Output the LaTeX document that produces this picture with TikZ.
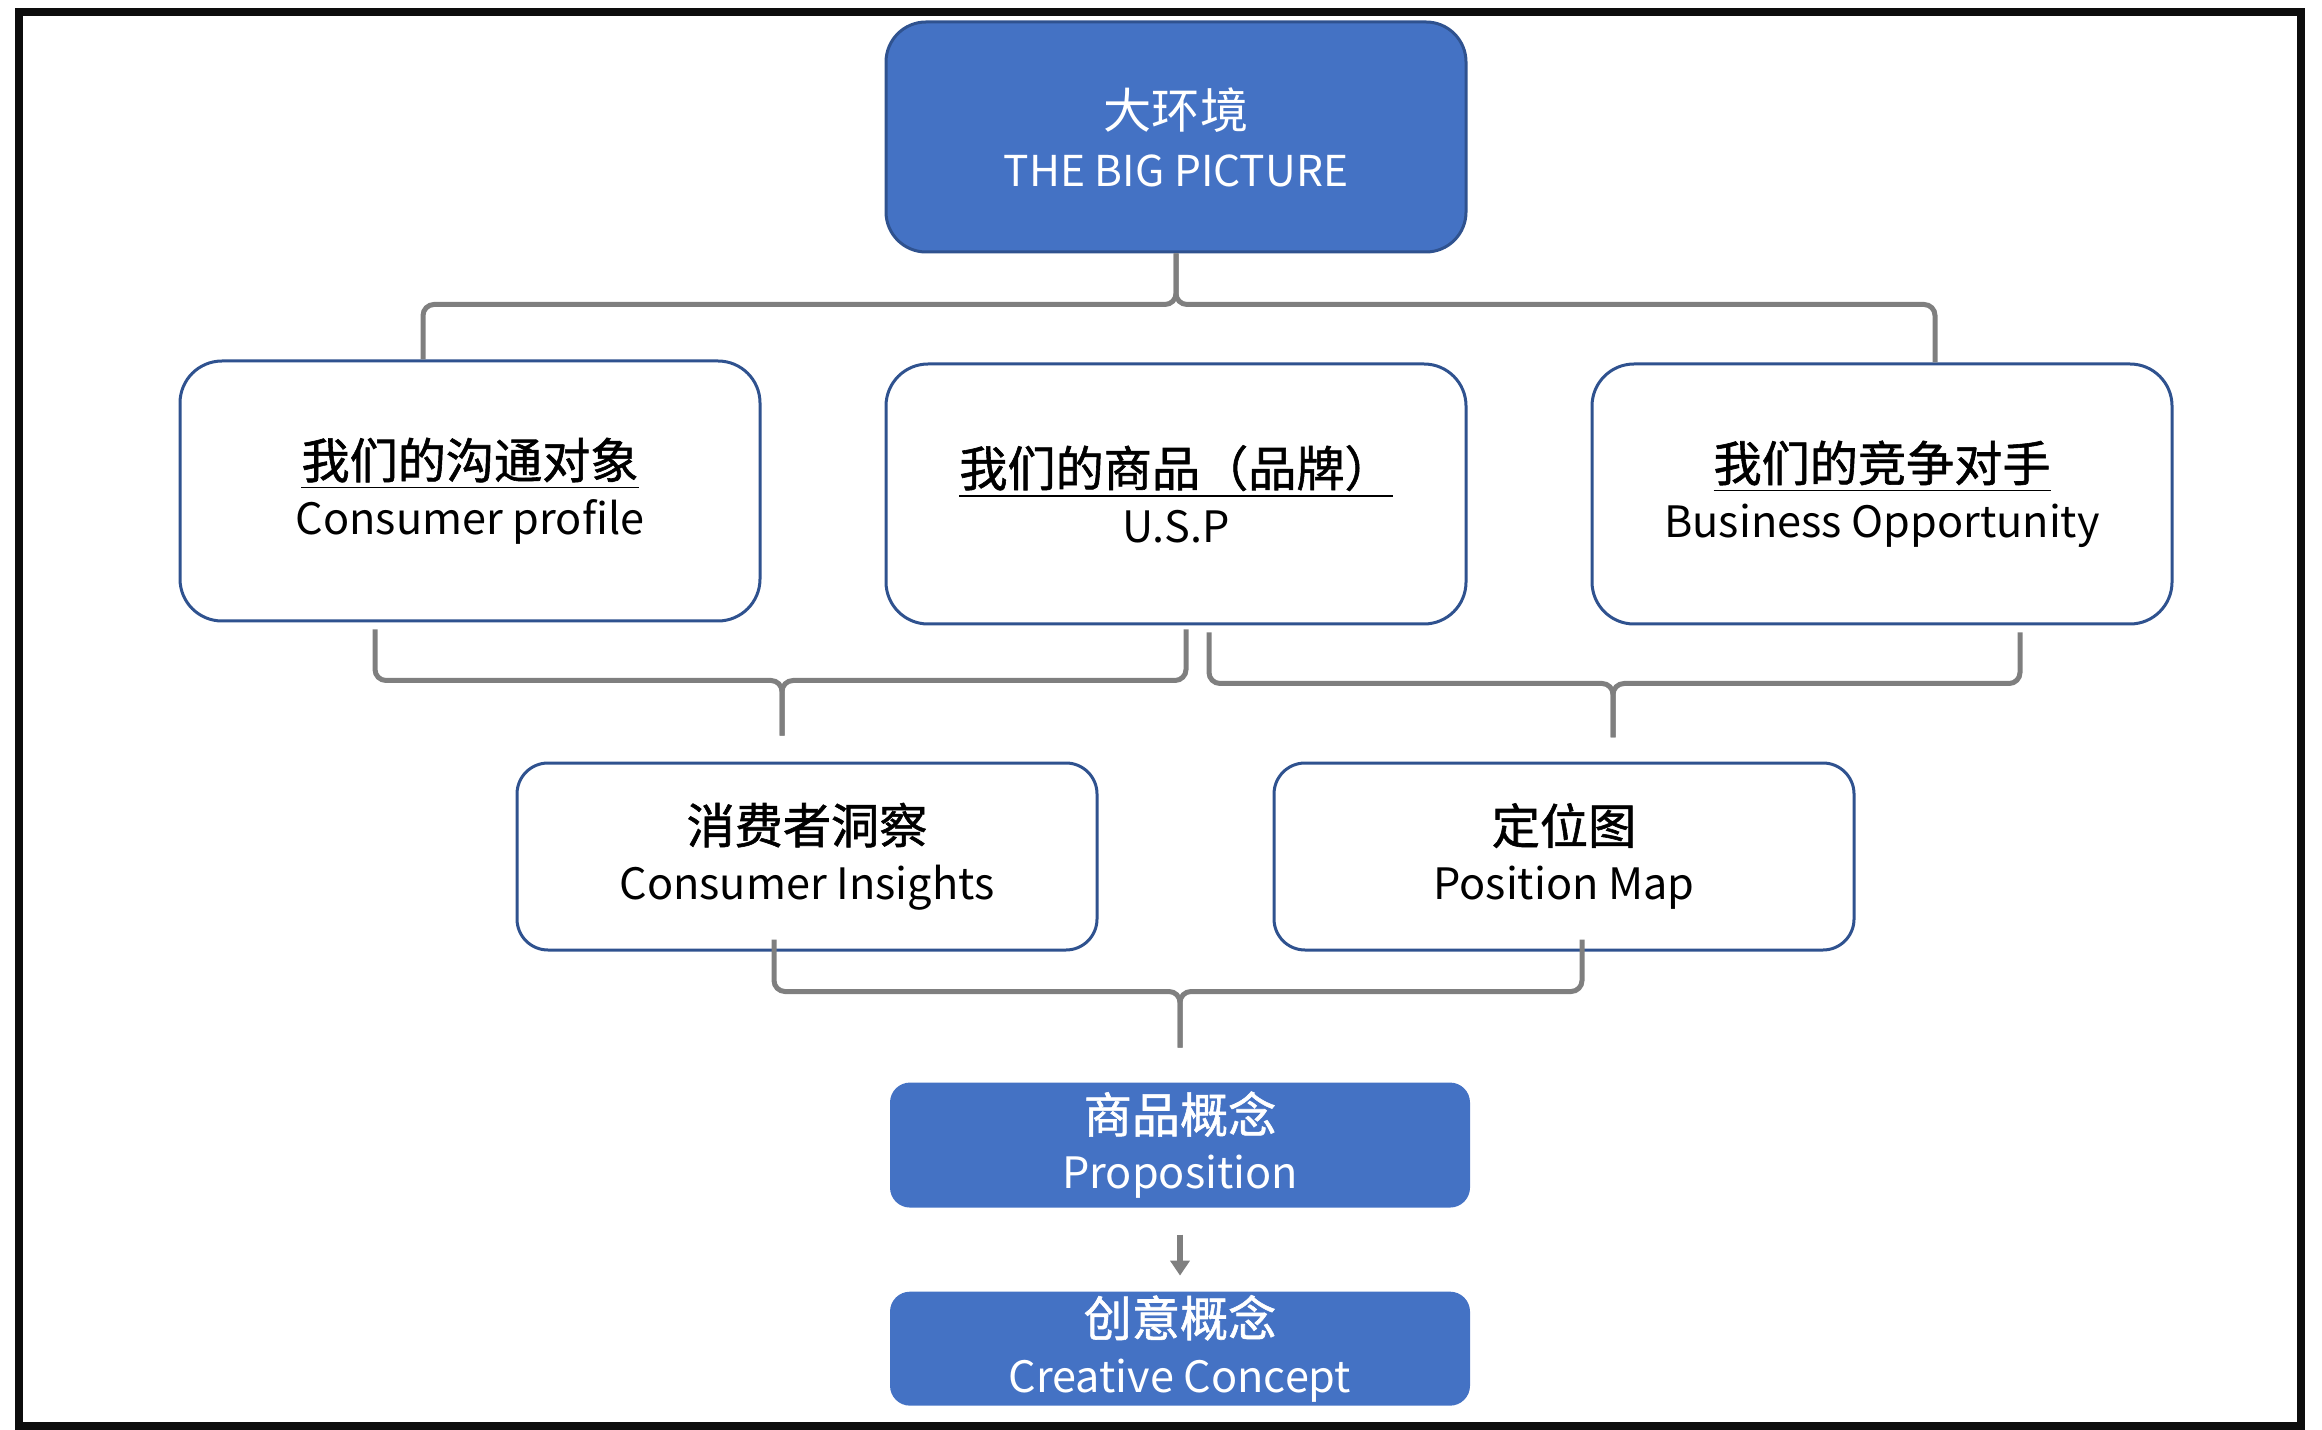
\documentclass[tikz,border=0pt]{standalone}
\usepackage{fontspec}
\setmainfont{Noto Sans CJK SC}
\newfontfamily\cjkmed{Noto Sans CJK SC}[FakeBold=1.2]
\usetikzlibrary{arrows.meta, positioning}
\definecolor{boxblue}{HTML}{4472C4}
\definecolor{edgeblue}{HTML}{2F528F}
\definecolor{linkgray}{HTML}{7F7F7F}
\definecolor{framegray}{HTML}{0D0D0D}
% latin line a bit smaller than the chinese one
\newcommand{\entxt}[1]{{\fontsize{12.3}{15.9}\selectfont #1}}
\newcommand{\zhtxt}[1]{{\cjkmed #1}}

\begin{document}
\begin{tikzpicture}[
            > = {Triangle[width=0.19cm, length=0.15cm]}, % arrow head style
            node distance = 1.23cm, % distance between nodes
            semithick % line style
        ]

        \tikzstyle{card}=[
            draw = edgeblue,
            line width = 0.03cm,
            fill = white,
            rounded corners = 0.42cm,
            minimum width = 5.8cm,
            minimum height = 2.6cm,
            align = center,
            font = \fontsize{13.7}{15.9}\selectfont
        ]
        \tikzstyle{smallcard}=[card, rounded corners = 0.31cm, minimum height = 1.87cm]
        \tikzstyle{goal}=[
            fill = boxblue,
            text = white,
            inner sep = 0pt,
            rounded corners = 0.2cm,
            minimum width = 5.8cm,
            align = center,
            font = \fontsize{13.7}{15.9}\selectfont
        ]
        \tikzstyle{joint}=[draw = linkgray, line width = 0.05cm, rounded corners = 0.11cm]

        \useasboundingbox (0,0) rectangle (23.22,-14.30);
        \draw[framegray, line width = 0.08cm] (0.19,-0.12) rectangle (23.01,-14.26);

        \node[goal] (big) [draw = edgeblue, line width = 0.03cm, rounded corners = 0.4cm, minimum height = 2.3cm, font = \fontsize{13.7}{16.5}\selectfont] at (11.76,-1.37) {大环境\\{\fontsize{12.1}{16.5}\selectfont THE BIG PICTURE}};
        \node[card] (usp) [below = 1.09cm of big] {\underline{\zhtxt{我们的商品（品牌）}}\\\entxt{U.S.P}};
        \node[card] (cp) [left = of usp, yshift = 0.03cm] {\underline{\zhtxt{我们的沟通对象}}\\\entxt{Consumer profile}};
        \node[card] (bo) [right = of usp] {\underline{\zhtxt{我们的竞争对手}}\\\entxt{Business Opportunity}};
        \node[smallcard] (ci) [below = 1.36cm of usp, xshift = -3.69cm] {\zhtxt{消费者洞察}\\\entxt{Consumer Insights}};
        \node[smallcard] (pm) [below = 1.36cm of usp, xshift = 3.88cm] {\zhtxt{定位图}\\\entxt{Position Map}};
        \node[goal] (prop) [below = 1.30cm of ci, xshift = 3.73cm, minimum height = 1.25cm] {\zhtxt{商品概念}\\\entxt{Proposition}};
        \node[goal] (cc) [below = 0.82cm of prop, minimum height = 1.14cm] {\zhtxt{创意概念}\\\entxt{Creative Concept}};

        % bracket ends
        \coordinate (t1) at ([xshift = -0.47cm]cp.north);
        \coordinate (t2) at ([xshift = 0.53cm]bo.north);
        \coordinate (a0) at ([xshift = -0.25cm, yshift = 0.26cm]ci.north);
        \coordinate (a1) at ([xshift = -0.95cm, yshift = -0.07cm]cp.south);
        \coordinate (a2) at ([xshift = 0.10cm, yshift = -0.04cm]usp.south);
        \coordinate (b0) at ([xshift = 0.49cm, yshift = 0.24cm]pm.north);
        \coordinate (b1) at ([xshift = 0.33cm, yshift = -0.07cm]usp.south);
        \coordinate (b2) at ([xshift = 1.38cm, yshift = -0.07cm]bo.south);
        \coordinate (c0) at ([yshift = 0.34cm]prop.north);
        \coordinate (c1) at ([xshift = -0.33cm, yshift = 0.12cm]ci.south);
        \coordinate (c2) at ([xshift = 0.18cm, yshift = 0.12cm]pm.south);

        \draw[joint] (big.south) -- ++(0,-0.51) -| (t1);
        \draw[joint] (big.south) -- ++(0,-0.51) -| (t2);
        \draw[joint] (a0) -- ++(0,0.55) -| (a1);
        \draw[joint] (a0) -- ++(0,0.55) -| (a2);
        \draw[joint] (b0) -- ++(0,0.54) -| (b1);
        \draw[joint] (b0) -- ++(0,0.54) -| (b2);
        \draw[joint] (c0) -- ++(0,0.56) -| (c1);
        \draw[joint] (c0) -- ++(0,0.56) -| (c2);

        \draw[->, draw = linkgray, line width = 0.06cm, shorten < = 0.26cm, shorten > = 0.15cm] (prop) -- (cc);
    \end{tikzpicture}
\end{document}
